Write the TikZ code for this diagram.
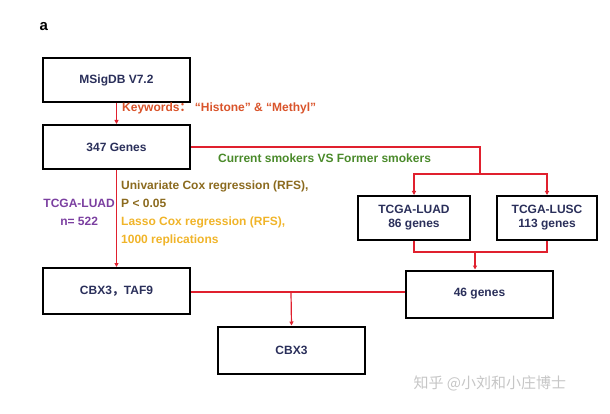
\documentclass[tikz,border=0pt]{standalone}
\usepackage{fontspec}
\setmainfont{Liberation Sans}
\newfontfamily\cjk{Noto Sans CJK SC}
\usetikzlibrary{arrows.meta}
\definecolor{navy}{HTML}{2A2F5A}
\definecolor{lred}{HTML}{E0202E}
\definecolor{kw}{HTML}{D9542B}
\definecolor{grn}{HTML}{4A8A2A}
\definecolor{brn}{HTML}{8B6A1E}
\definecolor{gld}{HTML}{F0B429}
\definecolor{pur}{HTML}{7B3FA0}
\begin{document}
\begin{tikzpicture}[x=1pt,y=-1pt,
  bx/.style={draw=black,line width=2pt,minimum height=44pt,font=\bfseries\fontsize{12}{14}\selectfont,text=navy,inner sep=0pt,align=center},
  ln/.style={draw=lred,line width=1.2pt},
  ar/.style={ln,-{Triangle[length=4pt,width=4pt]}},
  lb/.style={font=\bfseries\fontsize{12}{18}\selectfont,anchor=west,inner sep=0pt}]
\useasboundingbox (0,0) rectangle (610,414);
\node[font=\bfseries\fontsize{15}{15}\selectfont,anchor=west] (a) at (36,27) {a};
\node[bx,minimum width=147pt] (ms) at (116.5,80) {MSigDB V7.2};
\node[bx,minimum width=147pt] (g347) at (116.5,147) {347 Genes};
\node[bx,minimum width=112pt] (luad) at (414,218) {TCGA-LUAD\\86 genes};
\node[bx,minimum width=100pt] (lusc) at (547,218) {TCGA-LUSC\\113 genes};
\node[bx,minimum width=147pt,minimum height=46pt] (cbt) at (116.5,291) {CBX3{\cjk ，}TAF9};
\node[bx,minimum width=147pt,minimum height=47pt] (g46) at (479.5,294) {46 genes};
\node[bx,minimum width=147pt,minimum height=47pt] (cbx) at (291.5,350) {CBX3};
\draw[ar] (ms) -- (g347);
\draw[ar] (g347) -- (cbt);
\coordinate (j1) at (480,174);
\draw[ln] (g347.east) -| (j1);
\draw[ar] (j1) -| (luad.north);
\draw[ar] (j1) -| (lusc.north);
\coordinate (j2) at (475,252);
\draw[ln] (luad.south) |- (j2);
\draw[ln] (lusc.south) |- (j2);
\draw[ar] (j2) -- (g46.north -| j2);
\coordinate (j3) at (291,292);
\draw[ln] (cbt.east |- j3) -- (g46.west |- j3);
\draw[ar] (j3) -- (cbx.north);
\node[lb,text=kw] (t1) at (122,108) {Keywords{\cjk ：} “Histone” \& “Methyl”};
\node[lb,text=grn] (t2) at (218,158) {Current smokers VS Former smokers};
\node[lb,text=brn,align=left,anchor=north west] (t3) at (121,181) {Univariate Cox regression (RFS),\\P < 0.05};
\node[lb,text=gld,align=left,anchor=north west] (t4) at (121,217) {Lasso Cox regression (RFS),\\1000 replications};
\node[lb,text=pur,align=center,anchor=north east] (t5) at (115,199) {TCGA-LUAD\\n= 522};
\node[font=\cjk\fontsize{15}{15}\selectfont,text=gray!45,anchor=west] (wm) at (410,383) {知乎 @小刘和小庄博士};
\end{tikzpicture}
\end{document}
